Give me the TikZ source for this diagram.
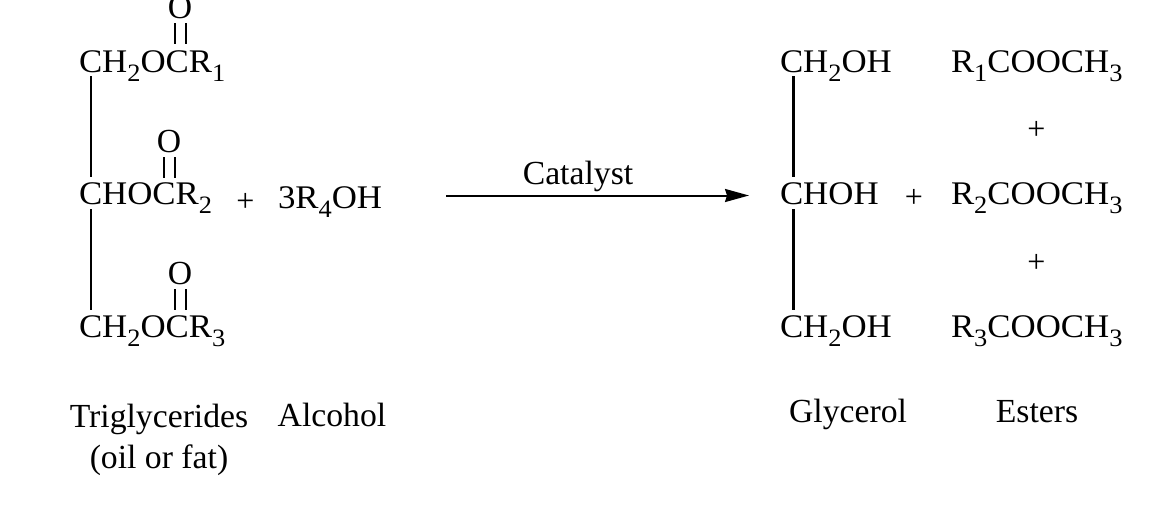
\documentclass[tikz,border=0pt]{standalone}
\usepackage{fontspec}
\setmainfont{Liberation Serif}
\newfontfamily\chemfont[FakeStretch=1.055]{Liberation Serif}
\usetikzlibrary{arrows.meta}
\newcommand{\subs}[1]{\raisebox{-0.3em}{\fontsize{25}{25}\selectfont #1}}
\tikzset{
  chem/.style={inner sep=0pt,outer sep=0pt,anchor=base west,font=\chemfont\fontsize{33}{36}\selectfont},
  lab/.style={inner sep=0pt,outer sep=0pt,anchor=base,font=\fontsize{33.7}{36}\selectfont,align=center},
  plus/.style={inner sep=0pt,outer sep=0pt,anchor=base,font=\fontsize{32}{34}\selectfont},
  bond/.style={line width=2pt,black},
  gbond/.style={line width=3.2pt,black},
  dbl/.style={line width=1.8pt,black},
  rxn/.style={line width=2pt,black,-{Stealth[length=24pt,width=13pt,inset=2pt]}}
}
\begin{document}
\begin{tikzpicture}[x=1pt,y=-1pt]
\useasboundingbox (0,0) rectangle (1157,506);
\clip (0,0) rectangle (1157,506);
% left column
\node[chem] (a1) at (79,72) {CH\subs{2}OCR\subs{1}};
\node[chem] (a2) at (79,204) {CHOCR\subs{2}};
\node[chem] (a3) at (79,337) {CH\subs{2}OCR\subs{3}};
\node[lab] (o1) at (180,18) {O};
\node[lab] (o2) at (169,152) {O};
\node[lab] (o3) at (180,284) {O};
\foreach \n/\x/\yt/\yb in {o1/180.5/23/44,o2/169.5/157/178,o3/180.5/289/310}{
  \coordinate (\n l1) at (\x-5.5,\yt);
  \coordinate (\n l2) at (\x-5.5,\yb);
  \coordinate (\n r1) at (\x+5.5,\yt);
  \coordinate (\n r2) at (\x+5.5,\yb);
  \draw[dbl] (\n l1) -- (\n l2);
  \draw[dbl] (\n r1) -- (\n r2);
}
\draw[bond] ([shift={(12,4)}]a1.base west) -- ([shift={(12,-27)}]a2.base west);
\draw[bond] ([shift={(12,5)}]a2.base west) -- ([shift={(12,-27)}]a3.base west);
\node[plus] (p1) at (245.5,211) {+};
\node[chem] (alc) at (278,208) {3R\subs{4}OH};
\node[lab] (tg) at (159,427) {Triglycerides};
\node[lab] (of) at (159,468) {(oil or fat)};
\node[lab] (al) at (332,426) {Alcohol};
% arrow
\coordinate (s) at (446,195.5);
\coordinate (e) at (749,195.5);
\draw[rxn] (s) -- (e);
\node[lab] (cat) at (578,184) {Catalyst};
% right column
\node[chem] (g1) at (780,72) {CH\subs{2}OH};
\node[chem] (g2) at (780,204) {CHOH};
\node[chem] (g3) at (780,337) {CH\subs{2}OH};
\draw[gbond] ([shift={(13.7,4)}]g1.base west) -- ([shift={(13.7,-27)}]g2.base west);
\draw[gbond] ([shift={(13.7,5)}]g2.base west) -- ([shift={(13.7,-27)}]g3.base west);
\node[plus] (p2) at (914,207) {+};
\node[chem] (e1) at (951,72) {R\subs{1}COOCH\subs{3}};
\node[plus] (p3) at (1036.5,139) {+};
\node[chem] (e2) at (951,204) {R\subs{2}COOCH\subs{3}};
\node[plus] (p4) at (1036.5,272) {+};
\node[chem] (e3) at (951,337) {R\subs{3}COOCH\subs{3}};
\node[lab] (gl) at (848,422) {Glycerol};
\node[lab] (es) at (1037,422) {Esters};
\end{tikzpicture}
\end{document}
